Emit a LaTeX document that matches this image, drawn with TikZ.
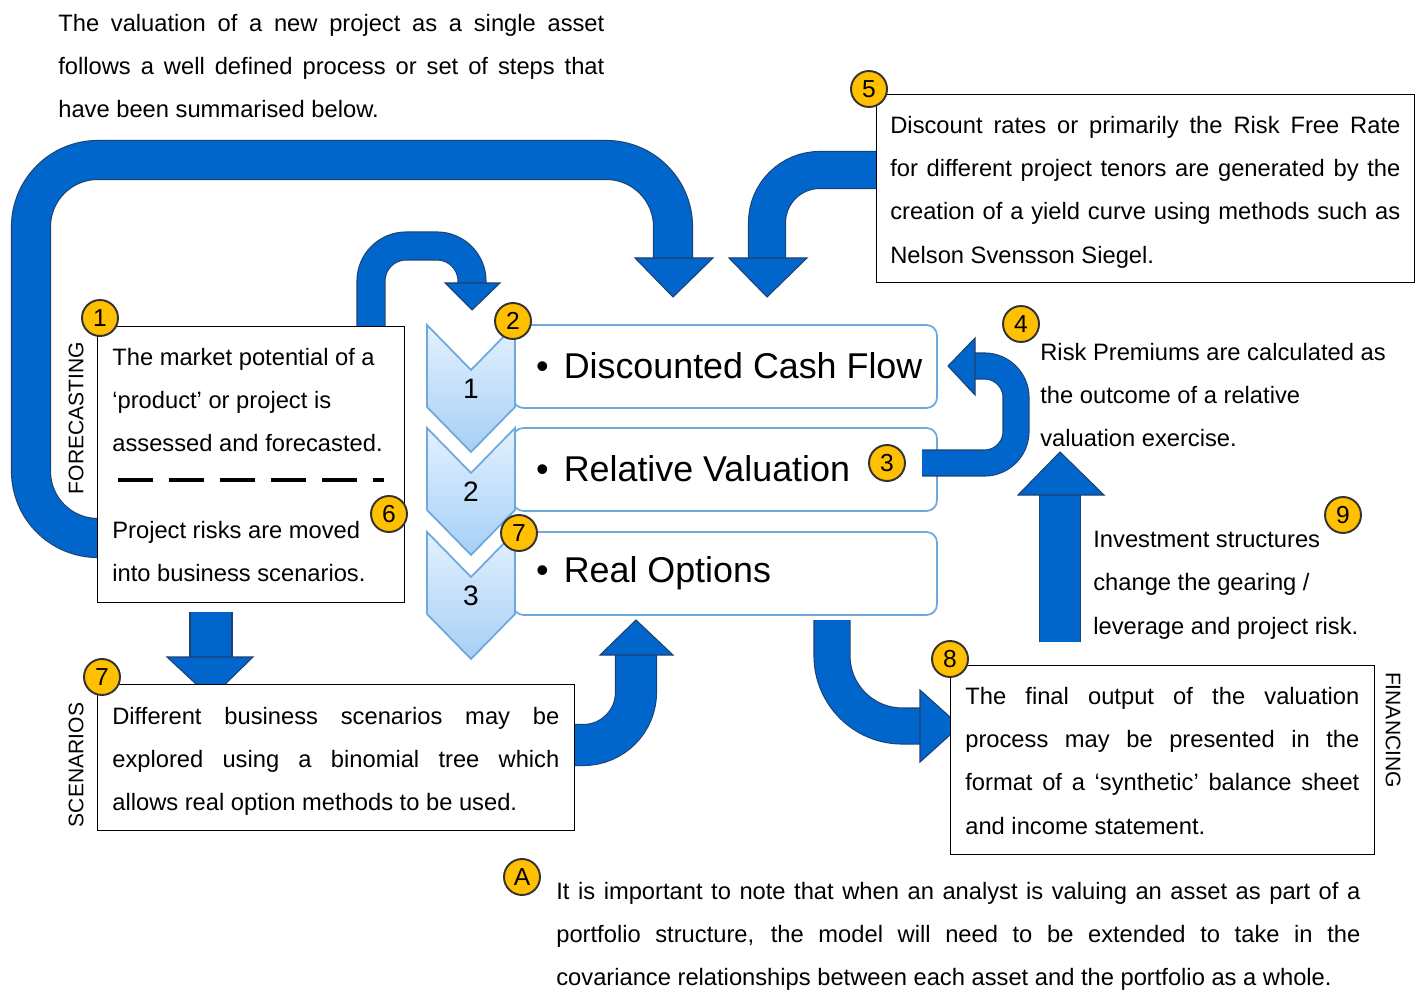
\documentclass[tikz,border=0pt]{standalone}
\usepackage{fontspec}
\setmainfont{Liberation Sans}
\definecolor{bandBlue}{HTML}{0066CC}
\definecolor{bandEdge}{HTML}{1F3F6F}
\definecolor{numGold}{HTML}{FFC000}
\definecolor{chevEdge}{HTML}{6FA8DC}
\definecolor{chevTop}{HTML}{E3F1FF}
\definecolor{chevBot}{HTML}{A6CFF5}
\tikzset{
  txt/.style={anchor=north west, inner sep=0pt, align=justify,
    font=\fontsize{13.5}{24.6}\selectfont},
  box/.style={draw, fill=white, line width=0.8pt},
  num/.style={circle, fill=numGold, draw=black!80, line width=1.1pt,
    minimum size=0.72cm, inner sep=0pt, font=\fontsize{14}{14}\selectfont},
  band/.style={draw=bandEdge, double=bandBlue, line width=0.6pt, rounded corners=#1},
  head/.style={fill=bandBlue, draw=bandEdge, line width=0.6pt},
  chev/.style={draw=chevEdge, line width=1pt, top color=chevTop, bottom color=chevBot},
  stepbox/.style={draw=chevEdge, line width=1pt, rounded corners=6pt},
  big/.style={anchor=west, font=\fontsize{20.4}{24}\selectfont},
  side/.style={rotate=90, font=\fontsize{12}{12}\selectfont},
}
\begin{document}
\hyphenpenalty=10000
\begin{tikzpicture}[x=0.02cm, y=-0.02cm]
\useasboundingbox (0,0) rectangle (1426,996);
% steps
\foreach \i/\t/\y in {1/Discounted Cash Flow/325, 2/Relative Valuation/428, 3/Real Options/532} {
  \draw[stepbox] (513,\y) rectangle (937,\y+83);
  \node[big] (s\i) at (530,\y+41) {\textbullet\hspace{0.42em}\t};
}
\foreach \i/\y in {1/325, 2/428, 3/532} {
  \draw[chev] (427,\y) -- (471,\y+45) -- (515,\y) -- (515,\y+82) -- (471,\y+127) -- (427,\y+82) -- cycle;
  \node[font=\fontsize{16}{16}\selectfont] (c\i) at (471,\y+64) {\i};
}
% big arrows
\coordinate (l0) at (120,538);  \coordinate (l1) at (673,258);
\draw[band=38pt, double distance=0.76cm] (l0) -- (31,538) -- (31,160) -- (673,160) -- (l1);
\fill[head] (635,258) -- (713,258) -- (673,297) -- cycle;
\coordinate (r0) at (877,170); \coordinate (r1) at (767,258);
\draw[band=30pt, double distance=0.72cm] (r0) -- (767,170) -- (r1);
\fill[head] (729,258) -- (807,258) -- (767,297) -- cycle;
\coordinate (s0) at (371,340); \coordinate (s1) at (472,283);
\draw[band=20pt, double distance=0.54cm] (s0) -- (371,246) -- (472,246) -- (s1);
\fill[head] (445,283) -- (500,283) -- (472,310) -- cycle;
\coordinate (p0) at (922,463); \coordinate (p1) at (975,366);
\draw[band=18pt, double distance=0.5cm] (p0) -- (1016,463) -- (1016,366) -- (p1);
\fill[head] (975,338) -- (975,395) -- (948,366) -- cycle;
\coordinate (u0) at (1060,642); \coordinate (u1) at (1060,495);
\draw[band=0pt, double distance=0.8cm] (u0) -- (u1);
\fill[head] (1018,495) -- (1104,495) -- (1060,452) -- cycle;
\coordinate (d0) at (211,612); \coordinate (d1) at (211,657);
\draw[band=0pt, double distance=0.82cm] (d0) -- (d1);
\fill[head] (167,657) -- (253,657) -- (211,698) -- cycle;
\coordinate (e0) at (560,745); \coordinate (e1) at (636,655);
\draw[band=30pt, double distance=0.8cm] (e0) -- (636,745) -- (e1);
\fill[head] (600,655) -- (673,655) -- (636,620) -- cycle;
\coordinate (f0) at (832,620); \coordinate (f1) at (920,726);
\draw[band=40pt, double distance=0.7cm] (f0) -- (832,726) -- (f1);
\fill[head] (920,690) -- (920,762) -- (960,726) -- cycle;
% boxes
\node[box, minimum width=307*0.02cm, minimum height=276*0.02cm, anchor=north west] (b1) at (97,326) {};
\node[box, minimum width=538*0.02cm, minimum height=188*0.02cm, anchor=north west] (b5) at (876,94) {};
\node[box, minimum width=477*0.02cm, minimum height=146*0.02cm, anchor=north west] (b7) at (97,684) {};
\node[box, minimum width=424*0.02cm, minimum height=189*0.02cm, anchor=north west] (b8) at (950,665) {};
\draw[line width=2.2pt, dash pattern=on 20pt off 9pt] (118,480) -- (384,480);
% texts
\node[txt, text width=546*0.02cm] (intro) at (58,14) {The valuation of a new project as a single asset\linebreak follows a well defined process or set of steps that\linebreak have been summarised below.};
\node[txt, align=left] (t1) at (112,348) {The market potential of a\\ `product' or project is\\ assessed and forecasted.};
\node[txt, align=left] (t6) at (112,521) {Project risks are moved\\ into business scenarios.};
\node[txt, text width=510*0.02cm] (t5) at (890,116) {Discount rates or primarily the Risk Free Rate\linebreak for different project tenors are generated by the\linebreak creation of a yield curve using methods such as\linebreak Nelson Svensson Siegel.};
\node[txt, align=left] (t4) at (1040,343) {Risk Premiums are calculated as\\ the outcome of a relative\\ valuation exercise.};
\node[txt, align=left] (t9) at (1093,531) {Investment structures\\ change the gearing /\\ leverage and project risk.};
\node[txt, text width=447*0.02cm] (t7) at (112,707) {Different business scenarios may be\linebreak explored using a binomial tree which\linebreak allows real option methods to be used.};
\node[txt, text width=394*0.02cm] (t8) at (965,687) {The final output of the valuation\linebreak process may be presented in the\linebreak format of a `synthetic' balance sheet\linebreak and income statement.};
\node[txt, text width=804*0.02cm] (tA) at (556,882) {It is important to note that when an analyst is valuing an asset as part of a\linebreak portfolio structure, the model will need to be extended to take in the\linebreak covariance relationships between each asset and the portfolio as a whole.};
\node[side] (fc) at (76,418) {FORECASTING};
\node[side] (sc) at (76,765) {SCENARIOS};
\node[side, rotate=180] (fi) at (1393,730) {FINANCING};
% numbers
\foreach \n/\x/\y [count=\k] in {1/100/318, 2/513/321, 5/869/89, 4/1021/324, 3/887/463, 6/389/514, 7/519/533, 7/102/677, 8/950/659, 9/1343/515, A/522/877}
  \node[num] (n\k) at (\x,\y) {\n};
\end{tikzpicture}
\end{document}
